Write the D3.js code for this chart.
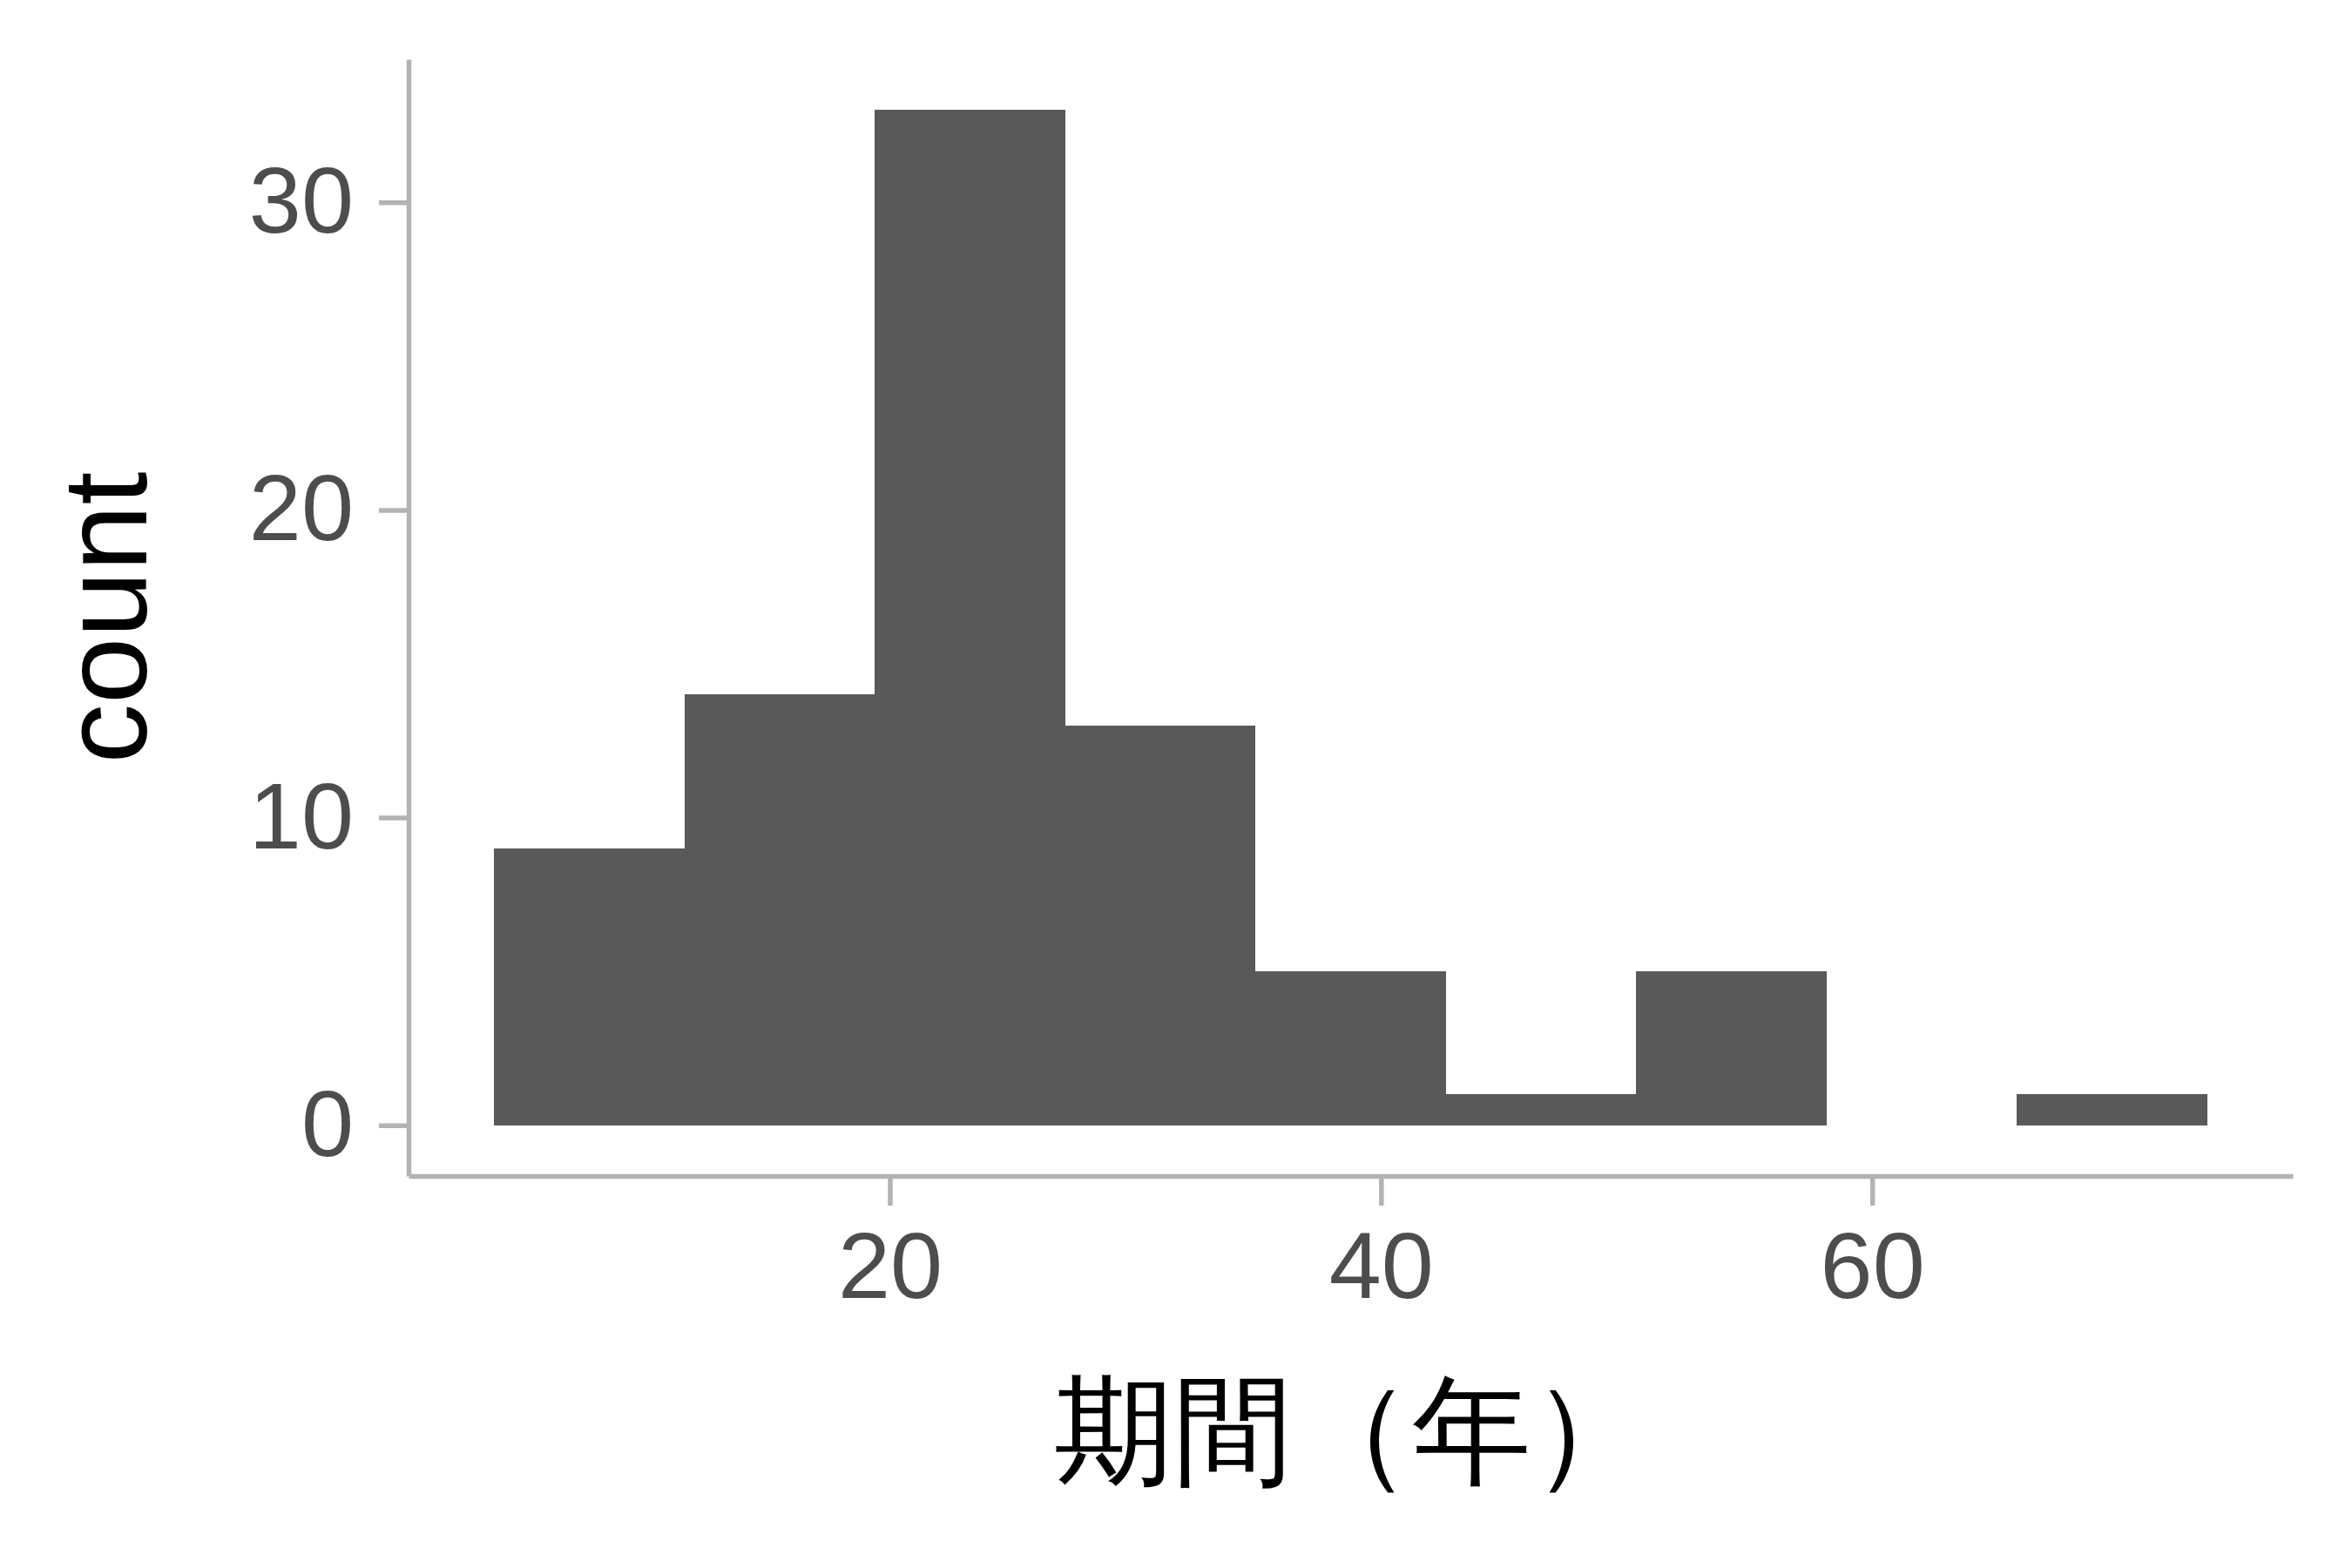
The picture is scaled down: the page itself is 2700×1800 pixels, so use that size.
<!DOCTYPE html>
<html>
<head>
<meta charset="utf-8">
<script src="https://cdn.jsdelivr.net/npm/d3@7"></script>
<style>
  body { margin: 0; background: #fff; }
  text { font-family: "Liberation Sans", Arial, sans-serif; }
</style>
</head>
<body>
<script>
// histogram bins (left/right edges in years) and counts
var binEdges = [3.89, 11.64, 19.39, 27.14, 34.89, 42.64, 50.39, 58.14, 65.89, 73.64],
	counts = [9, 14, 33, 13, 5, 1, 5, 0, 1];

var xTicks = [20, 40, 60],
	yTicks = [0, 10, 20, 30];

var xTitle = '期間（年）',
	yTitle = 'count';

var width = 2700,
	height = 1800,
	margin = {top: 68, right: 68, bottom: 450, left: 469};

var bins = counts.map(function(c, i) {
	return {x0: binEdges[i], x1: binEdges[i + 1], count: c};
});

// ggplot-style 5% expansion on both axes
var xMin = binEdges[0], xMax = binEdges[binEdges.length - 1],
	xPad = (xMax - xMin) * 0.05,
	yPad = d3.max(counts) * 0.05;

var x = d3.scaleLinear()
	.domain([xMin - xPad, xMax + xPad])
	.range([margin.left, width - margin.right]);

var y = d3.scaleLinear()
	.domain([-yPad, d3.max(counts) + yPad])
	.range([height - margin.bottom, margin.top]);

var svg = d3.select('body')
	.append('svg')
	.attr('width', width)
	.attr('height', height);

// bars
svg.append('g')
	.attr('shape-rendering', 'crispEdges')
	.selectAll('rect')
	.data(bins)
	.enter().append('rect')
		.attr('x', function(d) { return x(d.x0); })
		.attr('y', function(d) { return y(d.count); })
		.attr('width', function(d) { return x(d.x1) - x(d.x0); })
		.attr('height', function(d) { return y(0) - y(d.count); })
		.attr('fill', '#595959');

// axes
var xAxis = d3.axisBottom(x)
	.tickValues(xTicks)
	.tickSize(34)
	.tickSizeOuter(0)
	.tickPadding(29);

var yAxis = d3.axisLeft(y)
	.tickValues(yTicks)
	.tickSize(34)
	.tickSizeOuter(0)
	.tickPadding(29);

var gx = svg.append('g')
	.attr('transform', 'translate(0,' + (height - margin.bottom) + ')')
	.call(xAxis);

var gy = svg.append('g')
	.attr('transform', 'translate(' + margin.left + ',0)')
	.call(yAxis);

[gx, gy].forEach(function(g) {
	g.select('.domain').attr('stroke', '#B3B3B3').attr('stroke-width', 5.5);
	g.selectAll('.tick line').attr('stroke', '#B3B3B3').attr('stroke-width', 5.5);
	g.selectAll('.tick text')
		.attr('fill', '#4D4D4D')
		.attr('font-size', 108)
		.attr('font-family', '"Liberation Sans", Arial, sans-serif');
});

// axis titles
svg.append('text')
	.attr('x', (x.range()[0] + x.range()[1]) / 2 + 2)
	.attr('y', 1690)
	.attr('text-anchor', 'middle')
	.attr('font-size', 137)
	.attr('font-family', '"Noto Sans CJK JP", sans-serif')
	.attr('fill', '#000')
	.text(xTitle);

svg.append('text')
	.attr('transform', 'translate(168,' + (y.range()[0] + y.range()[1]) / 2 + ') rotate(-90)')
	.attr('text-anchor', 'middle')
	.attr('font-size', 137)
	.attr('fill', '#000')
	.text(yTitle);
</script>
</body>
</html>
